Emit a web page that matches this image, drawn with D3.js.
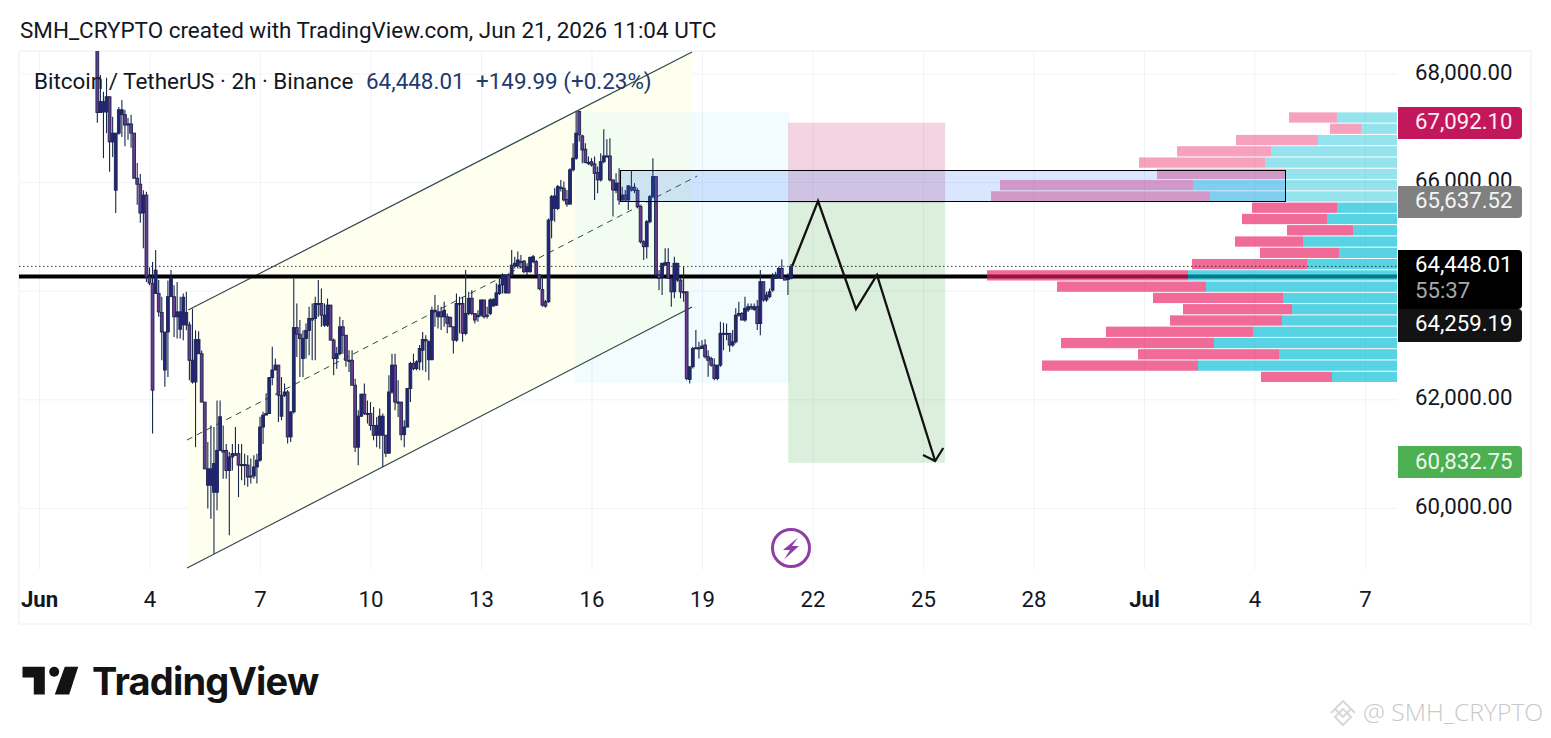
<!DOCTYPE html>
<html>
<head>
<meta charset="utf-8">
<script src="https://cdn.jsdelivr.net/npm/d3@7"></script>
<style>
body { margin: 0; background: #fff; }
text { font-family: Roboto, sans-serif; }
</style>
</head>
<body>
<div id="chart"></div>
<script>
/*************
Sample Data
**************/
const priceTicks = [60000, 62000, 64000, 66000, 68000];
const timeTicks = [0, 3, 6, 9, 12, 15, 18, 21, 24, 27, 30, 33, 36]; // days since Jun 1
const timeLabels = ["Jun", "4", "7", "10", "13", "16", "19", "22", "25", "28", "Jul", "4", "7"];

// 2h candles, first one is Jun 2 14:00
const firstCandleDay = 1 + 14 / 24;
const candleStep = 2 / 24;

const opens = [
68620,67280,67290,67290,67570,66740,65850,66900,67240,67240,
67070,67070,66900,66070,65960,65430,65760,64250,64130,63950,
63950,63600,62540,63240,63890,63890,63520,63290,63370,63370,
63370,62320,62320,62840,62840,61950,60420,60420,60290,60290,
61060,61060,61060,60690,60940,61000,61000,60800,60800,60790,
60590,60590,60755,60880,61490,61710,61740,62400,62540,62630,
61690,62075,62135,61310,61770,63320,63200,62750,63120,63270,
63490,63490,63765,63765,63365,63365,63735,63090,62750,62840,
63335,63180,62720,62720,62260,61120,61690,62095,61740,61740,
61520,61340,61340,61340,61340,61010,62135,62630,61950,61950,
61350,61490,62200,62660,62565,62690,62905,63100,62730,62730,
63640,63520,63610,63520,63520,63510,63335,63090,63765,63765,
63215,63580,63860,63580,63520,63550,63830,63550,63580,63720,
63735,63950,64105,63960,64290,64290,64455,64455,64535,64545,
64350,64350,64535,64535,64290,64020,63795,63795,65300,65515,
65515,65905,65885,65680,65595,66225,66440,67300,66850,66605,
66360,66375,66335,66175,66040,66375,66480,66480,66040,65845,
65980,65670,65760,65670,65905,65905,65845,65550,64900,64810,
65270,65730,66100,64290,64255,64470,64520,64225,63980,64195,
64195,63980,63980,62365,62600,62950,62950,62935,63000,62785,
62750,62630,62385,62630,63215,63215,63215,63000,63060,63550,
63580,63460,63645,63705,63655,63705,63395,64165,63830,63890,
64010,64225,64255,64410,64245,64205,64225
];
const highs = [
68730,67970,67660,67920,67570,67200,66900,67380,67510,67330,
67180,67240,66900,66350,66150,65850,65820,64430,64530,64750,
64195,63890,63240,64190,64380,64100,64160,63890,63950,63980,
63430,63670,63270,63255,62900,61950,61215,61520,61490,61980,
61980,61520,61180,61030,61180,61490,61180,61180,61000,60970,
60910,60970,61000,61680,61770,62110,62410,62970,62750,62630,
62410,62290,62170,61770,64225,63765,63460,63270,63395,63705,
63765,63890,64195,64040,63765,63855,63735,63120,62965,63520,
63460,63180,62905,62905,62380,61800,62105,62290,61980,61950,
61860,61675,61830,61740,61340,62445,62840,62840,62350,61950,
61615,62200,62690,62840,62720,63000,63240,63180,63090,63705,
63920,63735,63705,63795,63580,63520,63335,63950,63890,63890,
64380,63980,64010,63580,63640,63830,63830,63705,63860,63860,
64135,64255,64320,64290,64320,64750,64625,64720,64655,64565,
64505,64625,64655,64565,64305,64255,63830,65330,65760,65885,
65945,66040,66010,65855,66255,66715,67300,67300,66870,66715,
66470,66440,66470,66285,66530,66970,66790,66805,66040,66160,
66255,65915,65855,65945,66210,65980,65885,65560,64930,65300,
65760,66440,66110,64380,64505,64780,64780,64255,64625,64505,
64225,64440,63980,62600,62970,63275,63060,63090,63105,62905,
62785,62750,62630,63430,63410,63395,63215,63275,63675,63795,
63610,63890,63765,63765,63765,63830,64380,64165,63980,64040,
64320,64350,64440,64575,64255,64320,64490
];
const lows = [
67090,67280,66440,66900,66190,66460,65430,66870,66830,66660,
66780,66630,66070,65580,65250,64780,64160,64100,61370,63950,
63520,62720,62230,62410,63890,63150,63120,63120,63090,63270,
62350,62290,61120,62840,61950,60720,59990,59800,59160,59960,
61060,60540,60540,59500,60690,60970,60200,60510,60420,60390,
60450,60540,60450,60850,61180,61710,61740,62260,62540,61585,
61615,62045,61185,61215,61740,62780,62410,62410,62750,62810,
62720,62720,63520,63335,63335,63335,63090,62445,62565,62810,
62840,62600,62505,62260,61030,60785,61675,61710,61555,61430,
61245,61120,61090,60755,60940,61000,62105,61800,61675,61245,
61120,61490,61950,62535,62535,62535,62535,62505,62350,62720,
63335,63305,63275,63335,63215,63335,62845,63060,63215,63060,
63180,63550,63550,63395,63430,63520,63490,63490,63550,63705,
63720,63920,63950,63950,63950,64255,64410,64410,64410,64320,
64290,64330,64505,64290,64010,63705,63690,63780,64965,65270,
65485,65825,65640,65545,65580,66195,66410,66745,66345,66345,
66315,66285,65670,65795,66010,66345,66455,66010,65365,65795,
65580,65640,65640,65485,65825,65795,65515,64870,64565,64595,
65240,65700,64255,64010,63920,64470,64225,63705,63860,64165,
63860,63795,62350,62290,62570,62935,62750,62935,62750,62415,
62600,62350,62350,62600,62905,63090,62875,62970,63030,63520,
63460,63430,63610,63645,63630,63275,63180,63795,63795,63860,
63980,64225,64225,64225,64195,63920,64210
];
const closes = [
67280,67480,67480,67570,66740,66900,66900,67330,67330,67050,
67050,66900,66070,65960,65430,65760,64250,64140,62170,64380,
63610,63240,63240,63890,64230,63520,63610,63610,63880,63600,
62720,62720,63100,63100,61950,60720,60720,60720,60820,61060,
61680,61030,60690,60940,61000,60970,60790,60780,60780,60570,
60570,60755,60880,61490,61710,61740,62400,62540,62630,62075,
62075,62135,61310,61770,63320,63200,63120,63120,63270,63490,
63460,63765,63745,63550,63550,63735,63090,62750,62840,63335,
63180,62720,62700,62260,61120,61690,62095,61740,61720,61520,
61340,61520,61690,61690,61010,62135,62630,61950,61930,61350,
61490,62200,62660,62565,62690,62935,63100,63075,63060,63640,
63620,63610,63520,63640,63400,63335,63090,63765,63750,63215,
63580,63860,63580,63460,63550,63830,63520,63530,63830,63840,
63960,64105,64290,64290,63960,64470,64505,64565,64515,64350,
64440,64615,64625,64305,64040,63735,63715,65300,65730,65745,
65915,65885,65670,65595,66225,66440,66900,66870,66590,66360,
66340,66315,66160,66040,66375,66480,66460,66040,65855,65980,
65670,65760,65670,65930,65855,65845,65550,64900,64810,65270,
65730,66100,64290,64225,64505,64515,64225,63980,64505,64505,
63980,63960,62385,62600,62935,62930,62930,62980,62785,62720,
62630,62385,62630,63215,63195,63195,63000,63060,63550,63580,
63460,63675,63705,63685,63705,63395,64165,63830,63920,63980,
64255,64290,64410,64225,64195,64225,64448.01
];

// visible range volume, one row per bucket from top to bottom
const vpTopPrice = 67283;
const vpRowPrice = 207.6;
const vpUp = [60,36,79,126,132,111,204,187,60,70,44,94,58,90,209,191,114,105,115,144,183,118,199,65];
const vpDown = [48,31,82,94,126,129,193,219,85,85,66,68,79,115,201,149,130,109,112,147,153,141,156,71];
const vpFadedRows = 8;

// drawings, [day since Jun 1, price]
const channelArea = [[4.02, 63644], [17.73, 68393], [17.73, 63700], [4.02, 58896]];
const channelUpper = [[4.05, 63644], [17.73, 68393]];
const channelLower = [[4.02, 58896], [17.73, 63700]];
const channelMiddle = [[4.02, 61252], [17.87, 66111]];
const rangeBox = [[14.55, 67289], [20.39, 62301]];
const zoneBox = [[15.8, 66221], [33.83, 65651]];
const riskBox = [[20.34, 67092.1], [24.6, 65637.52]];
const rewardBox = [[20.34, 65637.52], [24.6, 60832.75]];
const zigzag = [[20.45, 64454], [21.15, 65651], [22.18, 63663], [22.75, 64289], [24.33, 60865]];
const arrowHead = [[24.0, 60975], [24.33, 60865], [24.55, 61104]];

const lastPrice = 64448.01;
const prevPrice = 64259.19;

/*************
Params
**************/
const width = 1551, height = 738;
const chartLeft = 19, chartRight = 1397, chartTop = 51, chartBottom = 570, frameRight = 1531, frameBottom = 624;
const fmt = d3.format(",.2f");

const x = d3.scaleLinear().domain([0, 36]).range([39, 1365]);
const y = d3.scaleLinear().domain([60000, 68000]).range([508, 73.4]);
const vpX = d3.scaleLinear().domain([0, 410]).range([0, 410]);

const svg = d3.select("#chart").append("svg").attr("width", width).attr("height", height).style("display", "block");

svg.append("clipPath").attr("id", "plot").append("rect")
 .attr("x", chartLeft).attr("y", chartTop).attr("width", chartRight - chartLeft).attr("height", chartBottom - chartTop);

svg.append("text").attr("x", 20).attr("y", 37.5).attr("font-size", 22.45).attr("fill", "#131722")
 .text("SMH_CRYPTO created with TradingView.com, Jun 21, 2026 11:04 UTC");

svg.append("rect").attr("x", chartLeft).attr("y", chartTop).attr("width", frameRight - chartLeft).attr("height", frameBottom - chartTop)
 .attr("fill", "none").attr("stroke", "#eceef2");

/*************
Grid and axes
**************/
const gridX = svg.append("g").attr("transform", "translate(0," + chartBottom + ")")
 .call(d3.axisBottom(x).tickValues(timeTicks).tickSize(chartTop - chartBottom).tickFormat(""));
const gridY = svg.append("g").attr("transform", "translate(" + chartLeft + ",0)")
 .call(d3.axisRight(y).tickValues(priceTicks).tickSize(chartRight - chartLeft).tickFormat(""));
[gridX, gridY].forEach(g => {
 g.select(".domain").remove();
 g.selectAll("line").attr("stroke", "#f1f3f6");
});

const timeAxis = svg.append("g").attr("transform", "translate(0,591)")
 .call(d3.axisBottom(x).tickValues(timeTicks).tickSize(0).tickPadding(0).tickFormat((_, i) => timeLabels[i]));
timeAxis.select(".domain").remove();
timeAxis.selectAll("text")
 .attr("font-size", 22.2).attr("fill", "#131722").attr("font-family", "Roboto, sans-serif")
 .attr("font-weight", (_, i) => timeLabels[i].length == 3 ? 700 : 400);

const priceAxis = svg.append("g").attr("transform", "translate(1415,-1.5)")
 .call(d3.axisRight(y).tickValues(priceTicks).tickSize(0).tickPadding(0).tickFormat(fmt));
priceAxis.select(".domain").remove();
priceAxis.selectAll("text").attr("font-size", 22.2).attr("fill", "#131722").attr("font-family", "Roboto, sans-serif");

/*************
Background drawings
**************/
const plot = svg.append("g").attr("clip-path", "url(#plot)");
const line = d3.line().x(d => x(d[0])).y(d => y(d[1]));

function box(g, b) {
 return g.append("rect")
  .attr("x", x(b[0][0])).attr("y", y(b[0][1]))
  .attr("width", x(b[1][0]) - x(b[0][0])).attr("height", y(b[1][1]) - y(b[0][1]));
}

plot.append("path").attr("d", line(channelArea) + "Z").attr("fill", "#fffff0");
box(plot, rangeBox).attr("fill", "#22c7ff").attr("fill-opacity", 0.06);
plot.append("path").attr("d", line(channelUpper)).attr("fill", "none").attr("stroke", "#2f4a4a").attr("stroke-width", 1.2);
plot.append("path").attr("d", line(channelLower)).attr("fill", "none").attr("stroke", "#2f4a4a").attr("stroke-width", 1.2);
plot.append("path").attr("d", line(channelMiddle)).attr("fill", "none").attr("stroke", "#2f4a4a").attr("stroke-width", 1).attr("stroke-dasharray", "6 5");

box(plot, riskBox).attr("fill", "#c2185b").attr("fill-opacity", 0.19);
box(plot, rewardBox).attr("fill", "#4caf50").attr("fill-opacity", 0.2);
plot.append("line").attr("x1", x(riskBox[0][0])).attr("x2", x(riskBox[1][0])).attr("y1", y(riskBox[1][1])).attr("y2", y(riskBox[1][1]))
 .attr("stroke", "#808080").attr("stroke-width", 1);

/*************
Price line, candles
**************/
plot.append("line").attr("x1", chartLeft).attr("x2", chartRight).attr("y1", y(prevPrice)).attr("y2", y(prevPrice))
 .attr("stroke", "#000").attr("stroke-width", 4);

const candles = opens.map((o, i) => ({ day: firstCandleDay + i * candleStep, o: o, h: highs[i], l: lows[i], c: closes[i] }));
const candle = plot.append("g").selectAll("g").data(candles).enter().append("g");
candle.append("line")
 .attr("x1", d => x(d.day)).attr("x2", d => x(d.day))
 .attr("y1", d => y(d.h)).attr("y2", d => y(d.l))
 .attr("stroke", "#17264a").attr("stroke-width", 1.1);
candle.append("rect")
 .attr("x", d => x(d.day) - 1.4).attr("width", 2.8)
 .attr("y", d => y(Math.max(d.o, d.c)))
 .attr("height", d => Math.max(0.6, Math.abs(y(d.o) - y(d.c))))
 .attr("fill", d => d.c >= d.o ? "#262380" : "#6a3a92")
 .attr("stroke", "#17264a").attr("stroke-width", 0.9);

/*************
Volume profile
**************/
const vp = plot.append("g").selectAll("g").data(vpUp).enter().append("g")
 .attr("fill-opacity", (_, i) => i < vpFadedRows ? 0.42 : 0.66);
const rowY = i => y(vpTopPrice - i * vpRowPrice);
const rowH = y(0) - y(vpRowPrice) - 1;
vp.append("rect").attr("x", (d, i) => chartRight - vpX(d)).attr("width", d => vpX(d))
 .attr("y", (_, i) => rowY(i)).attr("height", rowH).attr("fill", "#00bcd4");
vp.append("rect").attr("x", (d, i) => chartRight - vpX(d) - vpX(vpDown[i])).attr("width", (_, i) => vpX(vpDown[i]))
 .attr("y", (_, i) => rowY(i)).attr("height", rowH).attr("fill", "#e91e63");

plot.append("line").attr("x1", chartLeft).attr("x2", chartRight).attr("y1", y(lastPrice)).attr("y2", y(lastPrice))
 .attr("stroke", "#333").attr("stroke-width", 1).attr("stroke-dasharray", "1.5 2.5");

/*************
Foreground drawings
**************/
box(plot, zoneBox).attr("fill", "#2e74f5").attr("fill-opacity", 0.18).attr("stroke", "#000").attr("stroke-width", 1)
 .attr("shape-rendering", "crispEdges");
plot.append("path").attr("d", line(zigzag)).attr("fill", "none").attr("stroke", "#111").attr("stroke-width", 2.3);
plot.append("path").attr("d", line(arrowHead)).attr("fill", "none").attr("stroke", "#111").attr("stroke-width", 2.2);

// legend
const legend = svg.append("g").attr("font-size", 22.45);
legend.append("text").attr("x", 34).attr("y", 88.5).attr("fill", "#131722").text("Bitcoin / TetherUS · 2h · Binance");
legend.append("text").attr("x", 366).attr("y", 88.5).attr("fill", "#22396f").text(fmt(lastPrice));
legend.append("text").attr("x", 476).attr("y", 88.5).attr("fill", "#22396f").text("+149.99 (+0.23%)");

/*************
Price labels
**************/
function priceLabel(top, bottom, color) {
 svg.append("path").attr("fill", color)
  .attr("d", "M1398 " + top + "H1518a4 4 0 0 1 4 4V" + (bottom - 4) + "a4 4 0 0 1 -4 4H1398Z");
}
function labelText(yPos, str, color) {
 svg.append("text").attr("x", 1415).attr("y", yPos).attr("font-size", 22.2).attr("fill", color).text(str);
}
priceLabel(107, 139, "#c2185b");
labelText(y(riskBox[0][1]) + 6.5, fmt(riskBox[0][1]), "#fdeef4");
priceLabel(186, 218, "#808080");
labelText(y(riskBox[1][1]) + 6.5, fmt(riskBox[1][1]), "#f4f4f4");
priceLabel(446, 478, "#4caf50");
labelText(y(rewardBox[1][1]) + 6.5, fmt(rewardBox[1][1]), "#eef8ee");
priceLabel(250, 309, "#000");
labelText(272, fmt(lastPrice), "#fff");
labelText(298, "55:37", "#a8a8a8");
priceLabel(309, 342, "#131313");
labelText(331, fmt(prevPrice), "#fff");

/*************
Lightning marker
**************/
const bolt = svg.append("g").attr("transform", "translate(791,548)");
bolt.append("circle").attr("r", 18.5).attr("fill", "#fff").attr("stroke", "#8e3fa6").attr("stroke-width", 3);
bolt.append("path").attr("d", "M7 -10.5L-8 2H-1L-7 11.5L8 -2H1Z").attr("fill", "#8e3fa6");

/*************
Logo and watermark
**************/
const logo = svg.append("g").attr("transform", "translate(22.5,666.7)").attr("fill", "#131313");
logo.append("path").attr("d", "M0 0H22.3V27.7H11.3V10.7H0Z");
logo.append("path").attr("d", "M42.3 0H55.7L46.7 27.7H32.3Z");
logo.append("circle").attr("cx", 31.7).attr("cy", 5).attr("r", 5);
svg.append("text").attr("x", 92).attr("y", 695).attr("font-size", 38).attr("font-weight", 700)
 .attr("fill", "#131313").style("font-family", "Inter, sans-serif").attr("letter-spacing", -0.8).text("TradingView");

svg.append("text").attr("x", 1363).attr("y", 721).attr("font-size", 24.7).attr("fill", "#c9c9c9")
 .style("font-family", "'Open Sans', sans-serif").attr("font-weight", 300).text("@ SMH_CRYPTO");
const mark = svg.append("g").attr("transform", "translate(1343,713)").attr("fill", "none").attr("stroke", "#d8d8d8").attr("stroke-width", 2);
mark.append("path").attr("d", "M0 -12L8 -4L4 0L0 -4L-4 0L-8 -4Z");
mark.append("path").attr("d", "M-12 0L-8 -4M12 0L8 -4M-8 4L0 12L8 4L4 0L0 4L-4 0Z");
</script>
</body>
</html>
